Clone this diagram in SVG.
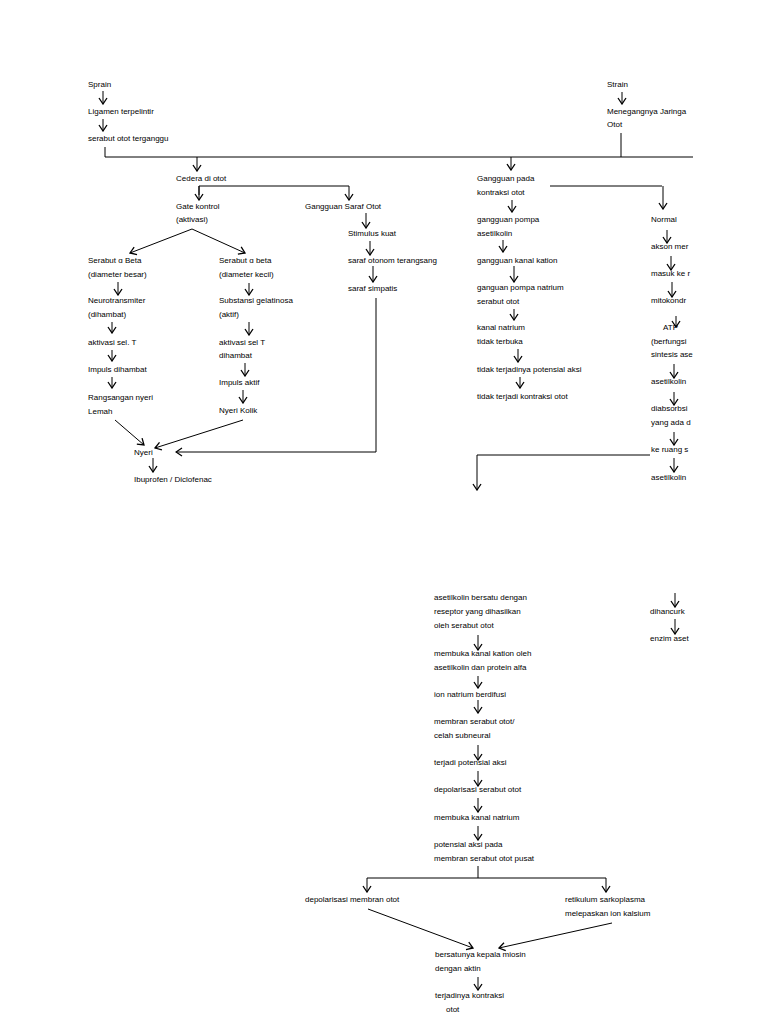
<svg xmlns="http://www.w3.org/2000/svg" width="768" height="1024" viewBox="0 0 768 1024">
<style>
text{font-family:"Liberation Sans",Arial,sans-serif;font-size:8px;fill:#000}
.c line,.c polyline{stroke:#000;stroke-width:1;fill:none}
.a{marker-end:url(#ah)}
</style>
<defs>
<marker id="ah" viewBox="0 0 10 10" refX="9" refY="5" markerWidth="10" markerHeight="10" markerUnits="userSpaceOnUse" orient="auto"><polyline points="3,1 9,5 3,9" fill="none" stroke="#000" stroke-width="1.3"/></marker>
<clipPath id="cp"><rect x="0" y="0" width="693" height="1024"/></clipPath>
</defs>
<rect width="768" height="1024" fill="#fff"/>
<g clip-path="url(#cp)">
<g class="c" id="connectors">
<line class="a" x1="103" y1="91" x2="103" y2="104"/>
<line class="a" x1="103" y1="119" x2="103" y2="131"/>
<polyline points="105,147 105,157 693,157"/>
<line x1="621" y1="133" x2="621" y2="157"/>
<line class="a" x1="622" y1="92" x2="622" y2="104"/>
<line class="a" x1="197" y1="157" x2="197" y2="171"/>
<polyline points="199,195 199,186 349,186"/>
<line class="a" x1="199" y1="186" x2="199" y2="200"/>
<line class="a" x1="349" y1="186" x2="349" y2="200"/>
<line class="a" x1="192" y1="229" x2="130" y2="253"/>
<line class="a" x1="192" y1="229" x2="245" y2="253"/>
<line class="a" x1="118" y1="282" x2="118" y2="295"/>
<line class="a" x1="112" y1="322" x2="112" y2="333"/>
<line class="a" x1="112" y1="350" x2="112" y2="361"/>
<line class="a" x1="112" y1="377" x2="112" y2="388"/>
<line class="a" x1="249" y1="283" x2="249" y2="295"/>
<line class="a" x1="249" y1="322" x2="249" y2="335"/>
<line class="a" x1="245" y1="363" x2="245" y2="376"/>
<line class="a" x1="243" y1="390" x2="243" y2="403"/>
<line class="a" x1="115" y1="420" x2="144" y2="445"/>
<line class="a" x1="243" y1="420" x2="155" y2="448"/>
<polyline class="a" points="376,298 376,452 176,452"/>
<line class="a" x1="153" y1="458" x2="153" y2="472"/>
<line class="a" x1="366" y1="213" x2="366" y2="228"/>
<line class="a" x1="370" y1="241" x2="370" y2="255"/>
<line class="a" x1="373" y1="266" x2="373" y2="282"/>
<line class="a" x1="511" y1="157" x2="511" y2="170"/>
<polyline points="550,186 662,186"/>
<line class="a" x1="663" y1="186" x2="663" y2="209"/>
<line class="a" x1="512" y1="200" x2="512" y2="212"/>
<line class="a" x1="503" y1="240" x2="503" y2="252"/>
<line class="a" x1="514" y1="266" x2="514" y2="282"/>
<line class="a" x1="514" y1="309" x2="514" y2="320"/>
<line class="a" x1="518" y1="349" x2="518" y2="362"/>
<line class="a" x1="520" y1="377" x2="520" y2="388"/>
<line class="a" x1="667" y1="230" x2="667" y2="243"/>
<line class="a" x1="671" y1="256" x2="671" y2="270"/>
<line class="a" x1="672" y1="282" x2="672" y2="297"/>
<line class="a" x1="676" y1="316" x2="676" y2="327"/>
<line class="a" x1="674" y1="364" x2="674" y2="378"/>
<line class="a" x1="674" y1="392" x2="674" y2="405"/>
<line class="a" x1="674" y1="432" x2="674" y2="445"/>
<line class="a" x1="674" y1="458" x2="674" y2="472"/>
<polyline class="a" points="650,455 477,455 477,490"/>
<line class="a" x1="478" y1="635" x2="478" y2="650"/>
<line class="a" x1="478" y1="676" x2="478" y2="688"/>
<line class="a" x1="478" y1="700" x2="478" y2="713"/>
<line class="a" x1="478" y1="745" x2="478" y2="760"/>
<line class="a" x1="478" y1="771" x2="478" y2="786"/>
<line class="a" x1="478" y1="798" x2="478" y2="812"/>
<line class="a" x1="478" y1="826" x2="478" y2="840"/>
<polyline points="478,866 478,878 367,878"/>
<line x1="478" y1="878" x2="606" y2="878"/>
<line class="a" x1="367" y1="878" x2="367" y2="892"/>
<line class="a" x1="606" y1="878" x2="606" y2="892"/>
<line class="a" x1="368" y1="909" x2="473" y2="948"/>
<line class="a" x1="612" y1="923" x2="499" y2="948"/>
<line class="a" x1="478" y1="977" x2="478" y2="990"/>
<line class="a" x1="675" y1="593" x2="675" y2="607"/>
<line class="a" x1="675" y1="619" x2="675" y2="634"/>
</g>
<g id="n-sprain"><text x="88" y="87">Sprain</text></g>
<g id="n-ligamen"><text x="88" y="114">Ligamen terpelintir</text></g>
<g id="n-serabut"><text x="88" y="141">serabut otot terganggu</text></g>
<g id="n-strain"><text x="607" y="87">Strain</text></g>
<g id="n-menegang"><text x="607" y="114">Menegangnya Jaringa</text><text x="607" y="127">Otot</text></g>
<g id="n-cedera"><text x="176" y="181">Cedera di otot</text></g>
<g id="n-gate"><text x="176" y="209">Gate kontrol</text><text x="176" y="222">(aktivasi)</text></g>
<g id="n-gso"><text x="305" y="209">Gangguan Saraf Otot</text></g>
<g id="n-sab"><text x="88" y="263">Serabut ɑ Beta</text><text x="88" y="277">(diameter besar)</text></g>
<g id="n-sabk"><text x="219" y="263">Serabut ɑ beta</text><text x="219" y="277">(diameter kecil)</text></g>
<g id="n-neuro"><text x="88" y="303">Neurotransmiter</text><text x="88" y="317">(dihambat)</text></g>
<g id="n-akt1"><text x="88" y="345">aktivasi sel. T</text></g>
<g id="n-imp1"><text x="88" y="372">Impuls dihambat</text></g>
<g id="n-rang"><text x="88" y="400">Rangsangan nyeri</text><text x="88" y="414">Lemah</text></g>
<g id="n-subst"><text x="219" y="303">Substansi gelatinosa</text><text x="219" y="317">(aktif)</text></g>
<g id="n-akt2"><text x="219" y="345">aktivasi sel T</text><text x="219" y="358">dihambat</text></g>
<g id="n-imp2"><text x="219" y="385">Impuls aktif</text></g>
<g id="n-kolik"><text x="219" y="413">Nyeri Kolik</text></g>
<g id="n-stim"><text x="348" y="236">Stimulus kuat</text></g>
<g id="n-otonom"><text x="348" y="263">saraf otonom terangsang</text></g>
<g id="n-simp"><text x="348" y="291">saraf simpatis</text></g>
<g id="n-nyeri"><text x="134" y="455">Nyeri</text></g>
<g id="n-ibu"><text x="134" y="482">Ibuprofen / Diclofenac</text></g>
<g id="n-gpk"><text x="477" y="181">Gangguan pada</text><text x="477" y="195">kontraksi otot</text></g>
<g id="n-gpa"><text x="477" y="222">gangguan  pompa</text><text x="477" y="236">asetilkolin</text></g>
<g id="n-gkk"><text x="477" y="263">gangguan kanal kation</text></g>
<g id="n-gpn"><text x="477" y="290">ganguan pompa natrium</text><text x="477" y="304">serabut otot</text></g>
<g id="n-kn"><text x="477" y="330">kanal natrium</text><text x="477" y="344">tidak terbuka</text></g>
<g id="n-ttpa"><text x="477" y="372">tidak terjadinya potensial aksi</text></g>
<g id="n-ttko"><text x="477" y="399">tidak terjadi kontraksi otot</text></g>
<g id="n-normal"><text x="651" y="222">Normal</text></g>
<g id="n-akson"><text x="651" y="249">akson mer</text></g>
<g id="n-masuk"><text x="651" y="276">masuk ke r</text></g>
<g id="n-mito"><text x="651" y="303">mitokondr</text></g>
<g id="n-atp"><text x="663" y="330">ATP</text><text x="651" y="344">(berfungsi</text><text x="651" y="357">sintesis ase</text></g>
<g id="n-ase1"><text x="651" y="384">asetilkolin</text></g>
<g id="n-diab"><text x="651" y="411">diabsorbsi</text><text x="651" y="425">yang ada d</text></g>
<g id="n-ruang"><text x="651" y="452">ke ruang s</text></g>
<g id="n-ase2"><text x="651" y="480">asetilkolin</text></g>
<g id="n-dihanc"><text x="650" y="614">dihancurk</text></g>
<g id="n-enzim"><text x="650" y="641">enzim aset</text></g>
</g>
<g id="n-bersatu"><text x="434" y="600">asetilkolin bersatu dengan</text><text x="434" y="614">reseptor yang dihasilkan</text><text x="434" y="628">oleh serabut otot</text></g>
<g id="n-membuka1"><text x="434" y="656">membuka kanal kation oleh</text><text x="434" y="670">asetilkolin dan protein alfa</text></g>
<g id="n-ion"><text x="434" y="697">ion natrium berdifusi</text></g>
<g id="n-membran"><text x="434" y="724">membran serabut otot/</text><text x="434" y="738">celah subneural</text></g>
<g id="n-tpa"><text x="434" y="765">terjadi potensial aksi</text></g>
<g id="n-depso"><text x="434" y="792">depolarisasi serabut otot</text></g>
<g id="n-mkn"><text x="434" y="820">membuka kanal natrium</text></g>
<g id="n-pap"><text x="434" y="847">potensial aksi pada</text><text x="434" y="861">membran serabut otot pusat</text></g>
<g id="n-depmo"><text x="305" y="902">depolarisasi membran otot</text></g>
<g id="n-retik"><text x="565" y="902">retikulum sarkoplasma</text><text x="565" y="916">melepaskan ion kalsium</text></g>
<g id="n-kepala"><text x="435" y="957">bersatunya kepala miosin</text><text x="435" y="971">dengan aktin</text></g>
<g id="n-kontraksi"><text x="435" y="998">terjadinya kontraksi</text><text x="446" y="1012">otot</text></g>
</svg>
